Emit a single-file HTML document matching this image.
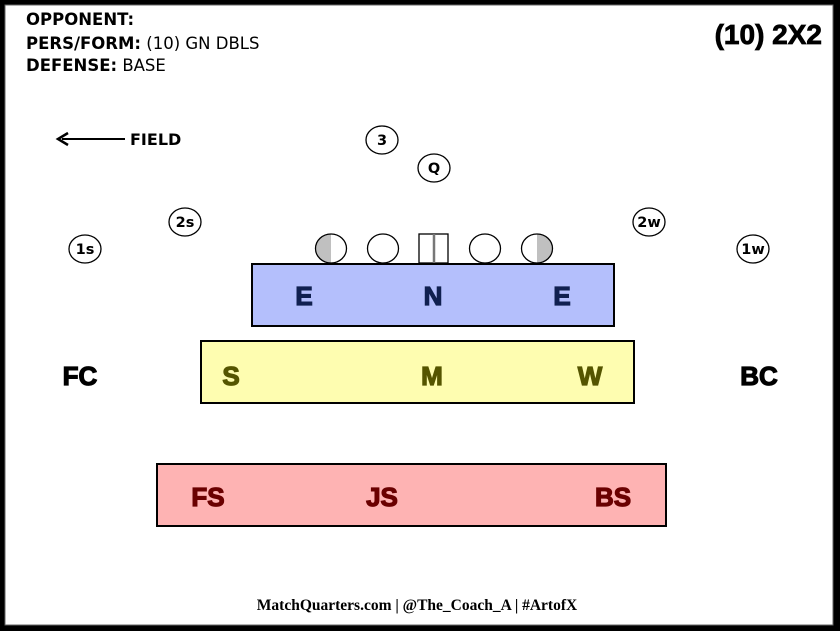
<!DOCTYPE html>
<html><head><meta charset="utf-8"><style>
html,body{margin:0;padding:0;background:#000;}
svg{display:block;}
</style></head><body>
<svg width="840" height="631" viewBox="0 0 840 631" xmlns="http://www.w3.org/2000/svg">
<rect x="0" y="0" width="840" height="631" fill="#000"/>
<rect x="5" y="5" width="828" height="620" fill="#fff" stroke="#666" stroke-width="1"/>
<g font-family="'DejaVu Sans','Liberation Sans',sans-serif" font-size="16.5" fill="#000">
<text x="26" y="25" font-weight="bold">OPPONENT:</text>
<text x="26" y="49"><tspan font-weight="bold">PERS/FORM:</tspan> (10) GN DBLS</text>
<text x="26" y="71"><tspan font-weight="bold">DEFENSE:</tspan> BASE</text>
</g>
<text x="822" y="44" text-anchor="end" font-family="'Liberation Sans',sans-serif" font-weight="bold" font-size="28" stroke="#000" stroke-width="0.8">(10) 2X2</text>
<line x1="62" y1="139" x2="125" y2="139" stroke="#000" stroke-width="2"/>
<polyline points="68,133 58,139 68,145" fill="none" stroke="#000" stroke-width="2.5"/>
<text x="130" y="145" font-family="'DejaVu Sans',sans-serif" font-weight="bold" font-size="16">FIELD</text>
<g fill="#fff" stroke="#000" stroke-width="1.3">
<ellipse cx="382" cy="140" rx="16" ry="14"/>
<ellipse cx="434" cy="168" rx="16" ry="14"/>
<ellipse cx="185" cy="222" rx="16" ry="14"/>
<ellipse cx="85" cy="249" rx="16" ry="14"/>
<ellipse cx="649" cy="222" rx="16" ry="14"/>
<ellipse cx="753" cy="249" rx="16" ry="14"/>
</g>
<g font-family="'DejaVu Sans',sans-serif" font-weight="bold" font-size="14.5" text-anchor="middle">
<text x="382" y="145">3</text>
<text x="434" y="173">Q</text>
<text x="185" y="227">2s</text>
<text x="85" y="254">1s</text>
<text x="649" y="227">2w</text>
<text x="753" y="254">1w</text>
</g>
<path d="M331,234 A15,14.5 0 0 0 331,263 Z" fill="#c0c0c0"/>
<path d="M537,234 A15,14.5 0 0 1 537,263 Z" fill="#c0c0c0"/>
<g fill="none" stroke="#000" stroke-width="1.3">
<ellipse cx="331" cy="248.5" rx="15.5" ry="14.5"/>
<ellipse cx="383" cy="248.5" rx="15.5" ry="14.5"/>
<ellipse cx="485" cy="248.5" rx="15.5" ry="14.5"/>
<ellipse cx="537" cy="248.5" rx="15.5" ry="14.5"/>
<rect x="419" y="234" width="29" height="29"/>
</g>
<line x1="434" y1="234" x2="434" y2="263" stroke="#777" stroke-width="2.5"/>
<rect x="252" y="264" width="362" height="62" fill="#b4bffc" stroke="#000" stroke-width="2"/>
<rect x="201" y="341" width="433" height="62" fill="#fefdb0" stroke="#000" stroke-width="2"/>
<rect x="157" y="464" width="509" height="62" fill="#feb3b3" stroke="#000" stroke-width="2"/>
<g font-family="'Liberation Sans',sans-serif" font-weight="bold" font-size="26" text-anchor="middle" stroke-width="1.2">
<g fill="#102050" stroke="#102050">
<text x="304" y="305">E</text><text x="433" y="305">N</text><text x="562" y="305">E</text>
</g>
<g fill="#555500" stroke="#555500">
<text x="231" y="385">S</text><text x="432" y="385">M</text><text x="590" y="385">W</text>
</g>
<g fill="#6a0000" stroke="#6a0000">
<text x="208" y="506">FS</text><text x="382" y="506">JS</text><text x="613" y="506">BS</text>
</g>
<text x="80" y="385" fill="#000" stroke="#000">FC</text>
<text x="759" y="385" fill="#000" stroke="#000">BC</text>
</g>
<text x="417" y="610" text-anchor="middle" font-family="'Liberation Serif',serif" font-weight="bold" font-size="15.5">MatchQuarters.com | @The_Coach_A | #ArtofX</text>
</svg>
</body></html>
